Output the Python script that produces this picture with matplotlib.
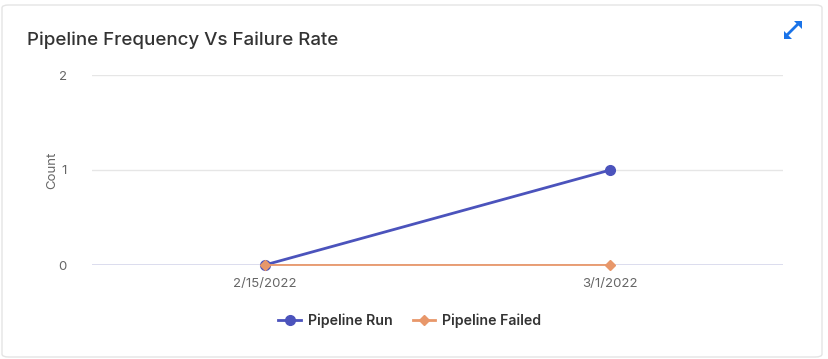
import matplotlib

matplotlib.use("Agg")
import matplotlib.pyplot as plt
from matplotlib.patches import FancyBboxPatch, Polygon
from matplotlib.lines import Line2D

# Data
dates = ["2/15/2022", "3/1/2022"]
pipeline_run = [0, 1]
pipeline_failed = [0, 0]
y_ticks = [0, 1, 2]

BLUE = "#4b53bc"
ORANGE = "#e8976a"
TEXT = "#666666"
ICON = "#1a73e8"

plt.rcParams["font.family"] = ["Inter", "DejaVu Sans"]

W, H = 829, 359
fig = plt.figure(figsize=(W / 100, H / 100), dpi=100)
fig.patch.set_facecolor("white")


def px(x, y):
    """Pixel position (from top left) to figure fraction."""
    return (x / W, 1 - y / H)


# card border, kept behind everything else
card = FancyBboxPatch((2 / W, 2 / H), 820 / W, 352 / H,
                      boxstyle="round,pad=0,rounding_size=0.008",
                      transform=fig.transFigure, facecolor="white",
                      edgecolor="#e4e4e4", lw=1, zorder=-5)
fig.patches.append(card)

fig.text(*px(27, 40), "Pipeline Frequency Vs Failure Rate",
         fontsize=13.5, color="#333333", fontweight="medium", va="center")

# expand icon: a diagonal line with a solid head at each end
fig.add_artist(Line2D([px(787, 35)[0], px(798, 24)[0]],
                      [px(787, 35)[1], px(798, 24)[1]],
                      transform=fig.transFigure, color=ICON, lw=2))
for tri in ([(784, 31), (784, 39), (792, 39)], [(794, 21), (802, 21), (802, 29)]):
    fig.add_artist(Polygon([px(a, b) for a, b in tri], closed=True,
                           transform=fig.transFigure, color=ICON, lw=0))

ax = fig.add_axes([92 / W, 1 - 265 / H, (783 - 92) / W, (265 - 75) / H])
ax.set_facecolor("none")
x = list(range(len(dates)))
ax.set_xlim(-0.5, len(dates) - 0.5)
ax.set_ylim(0, 2)
ax.set_yticks(y_ticks)
ax.set_xticks(x)
ax.set_xticklabels(dates)
ax.grid(axis="y", color="#e6e6e6", lw=1)
ax.axhline(0, color="#d6d8ef", lw=2, zorder=1)
for s in ax.spines.values():
    s.set_visible(False)
ax.tick_params(length=0, labelsize=9.5, colors=TEXT)
ax.tick_params(axis="y", pad=18)
ax.tick_params(axis="x", pad=9)
ax.set_ylabel("Count", fontsize=9.5, color=TEXT, labelpad=0)

ax.plot(x, pipeline_run, color=BLUE, lw=2, marker="o", ms=7, zorder=3,
        clip_on=False)
ax.plot(x, pipeline_failed, color=ORANGE, lw=1.3, marker="D", ms=5, zorder=4,
        clip_on=False)

handles = [
    Line2D([], [], color=BLUE, lw=2, marker="o", ms=7),
    Line2D([], [], color=ORANGE, lw=2, marker="D", ms=5),
]
leg = fig.legend(handles, ["Pipeline Run", "Pipeline Failed"], loc="center",
                 bbox_to_anchor=px(410, 321), ncol=2, frameon=False,
                 handlelength=1.6, columnspacing=1.4, handletextpad=0.5,
                 prop={"weight": "semibold", "size": 10.2})
for t in leg.get_texts():
    t.set_color("#333333")

fig.savefig("out.png", dpi=100)
